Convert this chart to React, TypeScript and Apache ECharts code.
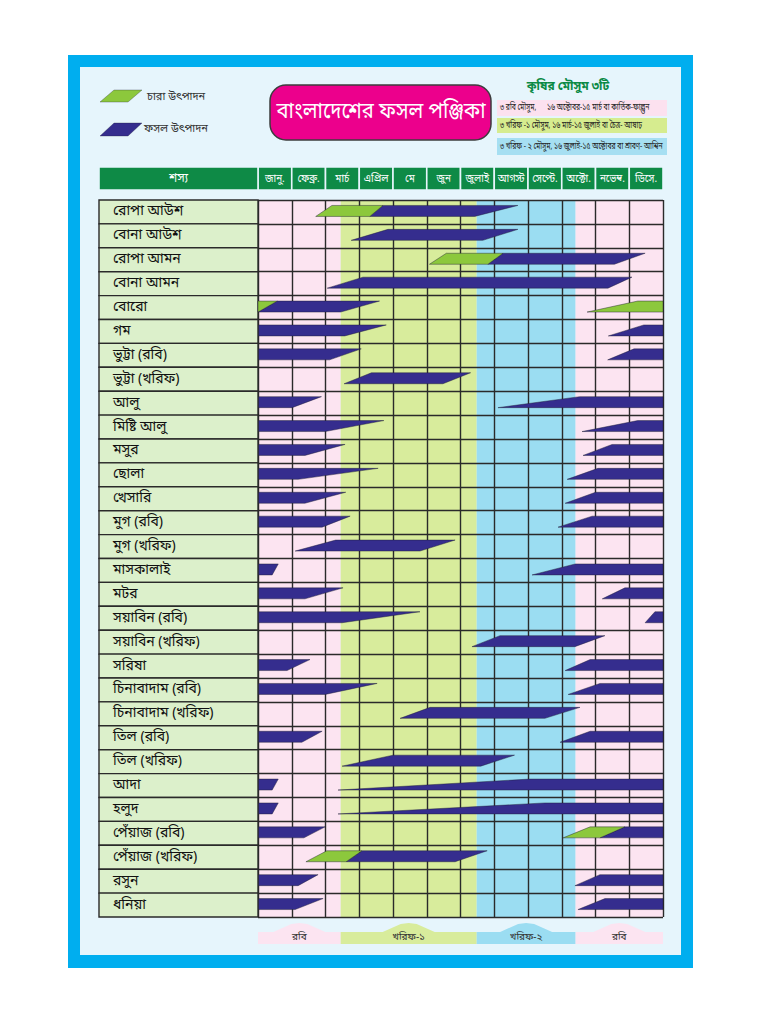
import React, { useEffect, useRef } from 'react';
import * as echarts from 'echarts';

const FONT = '"Noto Sans Bengali","Lohit Bengali","Noto Sans","DejaVu Sans",sans-serif';

const crops = [
  'রোপা আউশ', 'বোনা আউশ', 'রোপা আমন', 'বোনা আমন', 'বোরো', 'গম', 'ভুট্টা (রবি)', 'ভুট্টা (খরিফ)',
  'আলু', 'মিষ্টি আলু', 'মসুর', 'ছোলা', 'খেসারি', 'মুগ (রবি)', 'মুগ (খরিফ)', 'মাসকালাই', 'মটর',
  'সয়াবিন (রবি)', 'সয়াবিন (খরিফ)', 'সরিষা', 'চিনাবাদাম (রবি)', 'চিনাবাদাম (খরিফ)', 'তিল (রবি)',
  'তিল (খরিফ)', 'আদা', 'হলুদ', 'পেঁয়াজ (রবি)', 'পেঁয়াজ (খরিফ)', 'রসুন', 'ধনিয়া',
];

const months = ['জানু.', 'ফেব্রু.', 'মার্চ', 'এপ্রিল', 'মে', 'জুন', 'জুলাই', 'আগস্ট', 'সেপ্টে.', 'অক্টো.', 'নভেম্ব.', 'ডিসে.'];
const cropHeader = 'শস্য';

const seasons = ['রবি', 'খরিফ-১', 'খরিফ-২', 'রবি'];
const seasonStart = [0, 2.45, 6.48, 9.41];
const seasonEnd = [2.45, 6.48, 9.41, 12];
const seasonColors = ['#FCE4F1', '#D8EC9C', '#9BDDF2', '#FCE4F1'];

// [row, bottomStart, topStart, topEnd, bottomEnd] in months (0 = 1 Jan, 12 = 31 Dec)
const seedlingBars = [
  [0, 1.71, 2.19, 3.70, 3.31],
  [2, 5.08, 5.58, 7.26, 6.81],
  [4, 0, 0, 0.57, 0],
  [4, 9.75, 11.25, 12, 12],
  [26, 9.04, 9.84, 10.87, 10.13],
  [27, 1.42, 2.04, 3.08, 2.61],
];

const cropBars = [
  [0, 3.31, 3.70, 7.70, 6.42],
  [1, 2.76, 3.85, 7.70, 6.66],
  [2, 6.81, 7.26, 11.47, 10.56],
  [3, 2.05, 3.11, 11.08, 10.37],
  [4, 0, 0.57, 3.60, 2.45],
  [5, 0, 0, 3.80, 2.57],
  [5, 10.38, 11.43, 12, 12],
  [6, 0, 0, 3.06, 2.12],
  [6, 10.36, 11.14, 12, 12],
  [7, 2.55, 3.36, 6.30, 5.48],
  [8, 0, 0, 1.88, 1.01],
  [8, 7.11, 9.53, 12, 12],
  [9, 0, 0, 3.73, 1.99],
  [9, 9.60, 11.25, 12, 12],
  [10, 0, 0, 2.58, 1.39],
  [10, 9.63, 10.49, 12, 12],
  [11, 0, 0, 3.56, 1.19],
  [11, 9.16, 10.07, 12, 12],
  [12, 0, 0, 2.60, 1.39],
  [12, 9.10, 10.00, 12, 12],
  [13, 0, 0, 2.73, 1.90],
  [13, 8.89, 9.90, 12, 12],
  [14, 1.10, 2.30, 5.84, 4.80],
  [15, 0, 0, 0.60, 0.42],
  [15, 8.12, 9.40, 12, 12],
  [16, 0, 0, 2.52, 1.39],
  [16, 10.20, 10.87, 12, 12],
  [17, 0, 0, 4.80, 2.49],
  [17, 11.47, 11.76, 12, 12],
  [18, 6.34, 7.17, 10.28, 9.39],
  [19, 0, 0, 1.54, 0.86],
  [19, 9.10, 9.84, 12, 12],
  [20, 0, 0, 3.53, 1.99],
  [20, 9.19, 10.13, 12, 12],
  [21, 4.21, 5.10, 9.54, 8.50],
  [22, 0, 0, 1.90, 1.30],
  [22, 8.95, 9.84, 12, 12],
  [23, 2.49, 4.00, 7.60, 6.60],
  [24, 0, 0, 0.60, 0.42],
  [24, 2.37, 8.06, 12, 12],
  [25, 0, 0, 0.60, 0.42],
  [25, 2.37, 8.50, 12, 12],
  [26, 0, 0, 1.99, 1.36],
  [26, 10.13, 10.87, 12, 12],
  [27, 2.61, 3.08, 6.79, 5.84],
  [28, 0, 0, 1.78, 1.19],
  [28, 9.39, 10.13, 12, 12],
  [29, 0, 0, 1.93, 1.10],
  [29, 9.48, 10.28, 12, 12],
];

const legendLabels = ['চারা উৎপাদন', 'ফসল উৎপাদন'];
const titleText = 'বাংলাদেশের ফসল পঞ্জিকা';
const seasonTitle = 'কৃষির মৌসুম ৩টি';
const seasonNotes = [
  '৩ রবি মৌসুম,      ১৬ অক্টোবর-১৫ মার্চ বা কার্তিক-ফাল্গুন',
  '৩ খরিফ -১ মৌসুম, ১৬ মার্চ-১৫ জুলাই বা চৈত্র- আষাঢ়',
  '৩ খরিফ - ২ মৌসুম, ১৬ জুলাই-১৫ অক্টোবর বা শ্রাবণ- আশ্বিন',
];
const noteColors = ['#FCE1EF', '#D6EC8F', '#A6DFF2'];

const BLUE = '#352D8E';
const GREEN = '#8CC83C';
const LINE = '#2a2a2a';

function barRenderer(fill: string) {
  return (params: any, api: any) => {
    const row = api.value(0);
    const c = api.coord([0, row]);
    const rowH = api.size([0, 1])[1];
    const h = Math.min(11, rowH * 0.47);
    const top = c[1] - h / 2 - 1;
    const bottom = c[1] + h / 2 - 1;
    const X = (v: number) => api.coord([v, row])[0];
    const pts = [
      [X(api.value(1)), bottom],
      [X(api.value(2)), top],
      [X(api.value(3)), top],
      [X(api.value(4)), bottom],
    ];
    return {
      type: 'polygon',
      shape: { points: pts },
      style: { fill, stroke: 'rgba(30,30,50,0.55)', lineWidth: 0.8 },
    };
  };
}

export default function App() {
  const ref = useRef<HTMLDivElement>(null);
  useEffect(() => {
    if (!ref.current) return;
    const chart = echarts.init(ref.current, undefined, { renderer: 'svg' });

    const graphicEls: any[] = [
      { type: 'rect', z: -20, shape: { x: 68, y: 55, width: 625, height: 913 }, style: { fill: '#00AEEF' } },
      { type: 'rect', z: -19, shape: { x: 80, y: 67, width: 601, height: 888 }, style: { fill: '#E6F5FC' } },
      // legend
      { type: 'polygon', z: 10, shape: { points: [[100, 102], [114, 90], [142, 90], [128, 102]] }, style: { fill: GREEN, stroke: 'rgba(30,30,50,0.5)', lineWidth: 0.6 } },
      { type: 'text', z: 10, style: { text: legendLabels[0], x: 147, y: 97, fill: '#333', font: `11px ${FONT}`, textAlign: 'left', textVerticalAlign: 'middle' } },
      { type: 'polygon', z: 10, shape: { points: [[100, 136], [114, 123], [142, 123], [128, 136]] }, style: { fill: BLUE, stroke: 'rgba(30,30,50,0.5)', lineWidth: 0.6 } },
      { type: 'text', z: 10, style: { text: legendLabels[1], x: 144, y: 129, fill: '#333', font: `11px ${FONT}`, textAlign: 'left', textVerticalAlign: 'middle' } },
      // title
      { type: 'rect', z: 10, shape: { x: 270, y: 85, width: 221, height: 55, r: 16 }, style: { fill: '#EC008C', stroke: '#3d3d3d', lineWidth: 1.5 } },
      { type: 'text', z: 11, x: 381, y: 112, scaleX: 0.88, style: { text: titleText, x: 0, y: 0, fill: '#fff', font: `23px ${FONT}`, textAlign: 'center', textVerticalAlign: 'middle' } },
      // season notes
      { type: 'text', z: 10, style: { text: seasonTitle, x: 568, y: 87, fill: '#0B8A45', font: `bold 12px ${FONT}`, textAlign: 'center', textVerticalAlign: 'middle' } },
    ];
    const noteY = [100, 118, 138];
    const noteH = [16, 15, 17];
    seasonNotes.forEach((t, i) => {
      graphicEls.push({ type: 'rect', z: 10, shape: { x: 497, y: noteY[i], width: 170, height: noteH[i] }, style: { fill: noteColors[i] } });
      graphicEls.push({ type: 'text', z: 11, x: 500, y: noteY[i] + noteH[i] / 2, scaleX: 0.76, style: { text: t, x: 0, y: 0, fill: '#222', font: `9px ${FONT}`, textAlign: 'left', textVerticalAlign: 'middle' } });
    });

    const hidden = { show: false };

    const option: any = {
      animation: false,
      backgroundColor: '#ffffff',
      graphic: { elements: graphicEls },
      grid: [
        { left: 258, top: 200, width: 405, height: 717 },
        { left: 99, top: 200, width: 159, height: 717 },
        { left: 258, top: 167, width: 405, height: 23 },
        { left: 99, top: 167, width: 159, height: 23 },
        { left: 258, top: 922, width: 405, height: 22 },
      ],
      xAxis: [
        {
          type: 'value', gridIndex: 0, min: 0, max: 12, interval: 1,
          axisLine: hidden, axisTick: hidden, axisLabel: hidden,
          splitLine: { show: true, lineStyle: { color: LINE, width: 1.4 } },
        },
        { type: 'value', gridIndex: 1, min: 0, max: 1, show: false },
        { type: 'value', gridIndex: 2, min: 0, max: 12, show: false },
        { type: 'value', gridIndex: 3, min: 0, max: 1, show: false },
        { type: 'value', gridIndex: 4, min: 0, max: 12, show: false },
      ],
      yAxis: [
        {
          type: 'category', gridIndex: 0, data: crops, inverse: true,
          axisLine: hidden, axisTick: hidden, axisLabel: { show: false, interval: 0 },
          splitLine: { show: true, interval: 0, lineStyle: { color: LINE, width: 1.4 } },
        },
        { type: 'category', gridIndex: 1, data: crops, inverse: true, show: false },
        { type: 'value', gridIndex: 2, min: 0, max: 1, show: false },
        { type: 'value', gridIndex: 3, min: 0, max: 1, show: false },
        { type: 'value', gridIndex: 4, min: 0, max: 1, show: false },
      ],
      series: [
        {
          type: 'custom', name: 'season-bg', xAxisIndex: 0, yAxisIndex: 0, z: -5,
          data: seasons.map((s, i) => [seasonStart[i], seasonEnd[i]]),
          encode: { x: [0, 1] },
          renderItem: (params: any, api: any) => {
            const cs = params.coordSys;
            const x0 = api.coord([api.value(0), 0])[0];
            const x1 = api.coord([api.value(1), 0])[0];
            return {
              type: 'rect',
              shape: { x: x0, y: cs.y, width: x1 - x0, height: cs.height },
              style: { fill: seasonColors[params.dataIndex] },
            };
          },
        },
        {
          type: 'custom', name: 'ফসল উৎপাদন', xAxisIndex: 0, yAxisIndex: 0, z: 3,
          data: cropBars, encode: { x: [1, 2, 3, 4], y: 0 },
          renderItem: barRenderer(BLUE),
        },
        {
          type: 'custom', name: 'চারা উৎপাদন', xAxisIndex: 0, yAxisIndex: 0, z: 4,
          data: seedlingBars, encode: { x: [1, 2, 3, 4], y: 0 },
          renderItem: barRenderer(GREEN),
        },
        {
          type: 'custom', name: 'crop-names', xAxisIndex: 1, yAxisIndex: 1, z: 3,
          data: crops.map((c, i) => [i]), encode: { y: 0 },
          renderItem: (params: any, api: any) => {
            const i = api.value(0);
            const yc = api.coord([0, i])[1];
            const rh = api.size([0, 1])[1];
            const cs = params.coordSys;
            return {
              type: 'group',
              children: [
                { type: 'rect', shape: { x: cs.x, y: yc - rh / 2, width: cs.width, height: rh }, style: { fill: '#DCF0CB', stroke: LINE, lineWidth: 1.4 } },
                { type: 'text', style: { text: crops[params.dataIndex], x: cs.x + 14, y: yc, fill: '#111', font: `14px ${FONT}`, textAlign: 'left', textVerticalAlign: 'middle', align: 'left', verticalAlign: 'middle' } },
              ],
            };
          },
        },
        {
          type: 'custom', name: 'month-header', xAxisIndex: 2, yAxisIndex: 2, z: 3,
          data: months.map((m, i) => [i]), encode: { x: 0 },
          renderItem: (params: any, api: any) => {
            const i = api.value(0);
            const cs = params.coordSys;
            const x0 = api.coord([i, 0])[0];
            const x1 = api.coord([i + 1, 0])[0];
            return {
              type: 'group',
              children: [
                { type: 'rect', shape: { x: x0, y: cs.y, width: x1 - x0, height: cs.height }, style: { fill: '#0E8A46', stroke: '#E6F5FC', lineWidth: 1.6 } },
                { type: 'text', x: (x0 + x1) / 2, y: cs.y + cs.height / 2, scaleX: 0.86, style: { text: months[params.dataIndex], x: 0, y: 0, fill: '#fff', font: `11.5px ${FONT}`, textAlign: 'center', textVerticalAlign: 'middle', align: 'center', verticalAlign: 'middle' } },
              ],
            };
          },
        },
        {
          type: 'custom', name: 'crop-header', xAxisIndex: 3, yAxisIndex: 3, z: 3,
          data: [[0]], encode: { x: 0 },
          renderItem: (params: any) => {
            const cs = params.coordSys;
            return {
              type: 'group',
              children: [
                { type: 'rect', shape: { x: cs.x, y: cs.y, width: cs.width, height: cs.height }, style: { fill: '#0E8A46', stroke: '#E6F5FC', lineWidth: 1.6 } },
                { type: 'text', style: { text: cropHeader, x: cs.x + cs.width / 2, y: cs.y + cs.height / 2, fill: '#fff', font: `12px ${FONT}`, textAlign: 'center', textVerticalAlign: 'middle', align: 'center', verticalAlign: 'middle' } },
              ],
            };
          },
        },
        {
          type: 'custom', name: 'season-strip', xAxisIndex: 4, yAxisIndex: 4, z: 3,
          data: seasons.map((s, i) => [seasonStart[i], seasonEnd[i]]), encode: { x: [0, 1] },
          renderItem: (params: any, api: any) => {
            const cs = params.coordSys;
            const x0 = api.coord([api.value(0), 0])[0];
            const x1 = api.coord([api.value(1), 0])[0];
            const xc = (x0 + x1) / 2;
            const yt = cs.y + 10;
            const yb = cs.y + cs.height;
            const pts = [[x0, yb], [x0, yt], [xc - 26, yt], [xc - 8, cs.y + 2], [xc, cs.y + 1], [xc + 8, cs.y + 2], [xc + 26, yt], [x1, yt], [x1, yb]];
            return {
              type: 'group',
              children: [
                { type: 'polygon', shape: { points: pts }, style: { fill: seasonColors[params.dataIndex] } },
                { type: 'text', style: { text: seasons[params.dataIndex], x: xc, y: (yt + yb) / 2 - 1, fill: '#333', font: `10px ${FONT}`, textAlign: 'center', textVerticalAlign: 'middle', align: 'center', verticalAlign: 'middle' } },
              ],
            };
          },
        },
      ],
    };
    chart.setOption(option);
    return () => chart.dispose();
  }, []);
  return <div ref={ref} style={{ position: 'fixed', left: 0, top: 0, width: 768, height: 1024, background: '#fff' }} />;
}
